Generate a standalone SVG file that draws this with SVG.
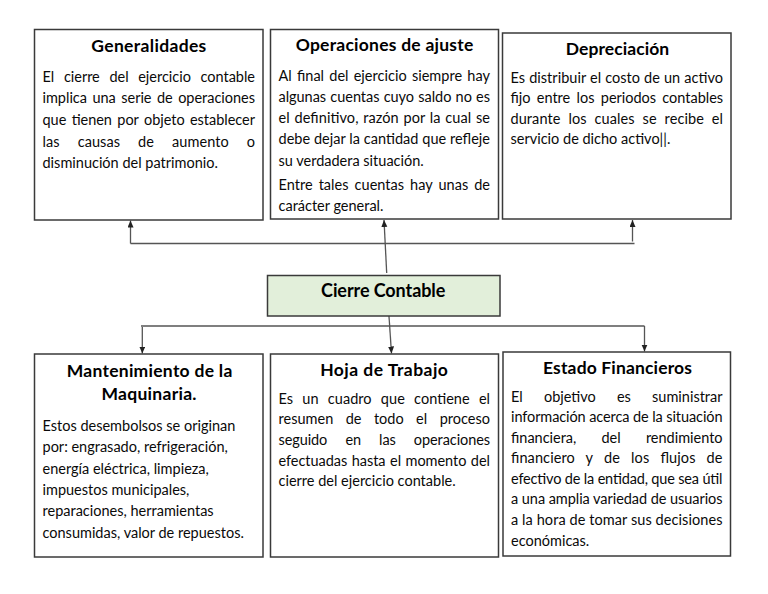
<svg xmlns="http://www.w3.org/2000/svg" width="768" height="594" viewBox="0 0 768 594">
<style>
.box{fill:#ffffff;stroke:#3a3a3a;stroke-width:1.5}
.root{fill:#e2efda;stroke:#3a3a3a;stroke-width:1.5}
.t{font-family:Lato,"Open Sans","Liberation Sans",sans-serif;font-weight:bold;font-size:17.5px;fill:#000;text-anchor:middle}
.b{font-family:Lato,"Open Sans","Liberation Sans",sans-serif;font-size:14.5px;fill:#0a0a0a}
.c{stroke:#555;stroke-width:1.3;fill:none}
</style>
<defs>
<marker id="ah" markerUnits="userSpaceOnUse" markerWidth="8" markerHeight="8" refX="7" refY="3" orient="auto">
<path d="M0,0 L7,3 L0,6 Z" fill="#222"/>
</marker>
</defs>
<rect width="768" height="594" fill="#ffffff"/>

<g id="connectors">
<line class="c" x1="130.5" y1="243.5" x2="634.5" y2="243.5"/>
<line class="c" x1="130.5" y1="243.5" x2="130.5" y2="220.5" marker-end="url(#ah)"/>
<line class="c" x1="632.5" y1="241.5" x2="632.5" y2="220" marker-end="url(#ah)"/>
<line class="c" x1="386.7" y1="273" x2="384" y2="220" marker-end="url(#ah)"/>
<line class="c" x1="141" y1="326" x2="644.5" y2="326"/>
<line class="c" x1="142.3" y1="327" x2="142.3" y2="353.5" marker-end="url(#ah)"/>
<line class="c" x1="644.5" y1="326" x2="644.5" y2="351.5" marker-end="url(#ah)"/>
<line class="c" x1="387.7" y1="297" x2="391.5" y2="353.5" marker-end="url(#ah)"/>
</g>

<g id="generalidades">
<rect class="box" x="34.5" y="29.5" width="228.5" height="190.5"/>
<text class="t" x="148.8" y="52" textLength="115" lengthAdjust="spacing">Generalidades</text>
<text class="b" x="42.5" y="81.5" textLength="212.5" lengthAdjust="spacing" style="word-spacing:6px">El cierre del ejercicio contable</text>
<text class="b" x="42.5" y="103.2" textLength="212.5" lengthAdjust="spacing" style="word-spacing:1.8px">implica una serie de operaciones</text>
<text class="b" x="42.5" y="124.9" textLength="212.5" lengthAdjust="spacing" style="word-spacing:1.7px">que tienen por objeto establecer</text>
<text class="b" x="42.5" y="146.6" textLength="212.5" lengthAdjust="spacing" style="word-spacing:14.2px">las causas de aumento o</text>
<text class="b" x="42.5" y="168.3">disminución del patrimonio.</text>
</g>

<g id="operaciones">
<rect class="box" x="270.5" y="29.5" width="228" height="189.5"/>
<text class="t" x="384.5" y="51" textLength="177.6" lengthAdjust="spacing">Operaciones de ajuste</text>
<text class="b" x="278.5" y="80.5" textLength="211.5" lengthAdjust="spacing" style="word-spacing:1.4px">Al final del ejercicio siempre hay</text>
<text class="b" x="278.5" y="101.8" textLength="211.5" lengthAdjust="spacing" style="word-spacing:0.6px">algunas cuentas cuyo saldo no es</text>
<text class="b" x="278.5" y="123.1" textLength="211.5" lengthAdjust="spacing" style="word-spacing:0.9px">el definitivo, razón por la cual se</text>
<text class="b" x="278.5" y="144.4" textLength="211.5" lengthAdjust="spacing" style="word-spacing:0px">debe dejar la cantidad que refleje</text>
<text class="b" x="278.5" y="165.7">su verdadera situación.</text>
<text class="b" x="278.5" y="189.5" textLength="211.5" lengthAdjust="spacing" style="word-spacing:2.2px">Entre tales cuentas hay unas de</text>
<text class="b" x="278.5" y="210.5">carácter general.</text>
</g>

<g id="depreciacion">
<rect class="box" x="502.5" y="33" width="228.5" height="186"/>
<text class="t" x="617.5" y="55" textLength="103.4" lengthAdjust="spacing">Depreciación</text>
<text class="b" x="510.5" y="82.5" textLength="212.5" lengthAdjust="spacing" style="word-spacing:0.3px">Es distribuir el costo de un activo</text>
<text class="b" x="510.5" y="103" textLength="212.5" lengthAdjust="spacing" style="word-spacing:2.7px">fijo entre los periodos contables</text>
<text class="b" x="510.5" y="123.5" textLength="212.5" lengthAdjust="spacing" style="word-spacing:4.2px">durante los cuales se recibe el</text>
<text class="b" x="510.5" y="144">servicio de dicho activo||.</text>
</g>

<g id="cierre-contable">
<rect class="root" x="267.5" y="275.5" width="232.5" height="40.5"/>
<text class="t" x="383.2" y="297" style="font-size:18px" textLength="124.3" lengthAdjust="spacing">Cierre Contable</text>
</g>

<g id="mantenimiento">
<rect class="box" x="34.5" y="354" width="228.5" height="203"/>
<text class="t" x="149.5" y="377" textLength="165.6" lengthAdjust="spacing">Mantenimiento de la</text>
<text class="t" x="149" y="400" textLength="95" lengthAdjust="spacing">Maquinaria.</text>
<text class="b" x="42.5" y="431">Estos desembolsos se originan</text>
<text class="b" x="42.5" y="452.3">por: engrasado, refrigeración,</text>
<text class="b" x="42.5" y="473.6">energía eléctrica, limpieza,</text>
<text class="b" x="42.5" y="494.9">impuestos municipales,</text>
<text class="b" x="42.5" y="516.2">reparaciones, herramientas</text>
<text class="b" x="42.5" y="537.5">consumidas, valor de repuestos.</text>
</g>

<g id="hoja-de-trabajo">
<rect class="box" x="270.5" y="354" width="228" height="203"/>
<text class="t" x="384" y="376" textLength="127.7" lengthAdjust="spacing">Hoja de Trabajo</text>
<text class="b" x="278.5" y="403.5" textLength="211.5" lengthAdjust="spacing" style="word-spacing:5.5px">Es un cuadro que contiene el</text>
<text class="b" x="278.5" y="424.2" textLength="211.5" lengthAdjust="spacing" style="word-spacing:8.7px">resumen de todo el proceso</text>
<text class="b" x="278.5" y="444.9" textLength="211.5" lengthAdjust="spacing" style="word-spacing:14.5px">seguido en las operaciones</text>
<text class="b" x="278.5" y="465.6" textLength="211.5" lengthAdjust="spacing" style="word-spacing:0.8px">efectuadas hasta el momento del</text>
<text class="b" x="278.5" y="486.3">cierre del ejercicio contable.</text>
</g>

<g id="estado-financieros">
<rect class="box" x="503" y="352" width="227.5" height="204"/>
<text class="t" x="617.5" y="374" textLength="149" lengthAdjust="spacing">Estado Financieros</text>
<text class="b" x="511" y="401.5" textLength="211.5" lengthAdjust="spacing" style="word-spacing:17.5px">El objetivo es suministrar</text>
<text class="b" x="511" y="422" textLength="211.5" lengthAdjust="spacing" style="word-spacing:0px">información acerca de la situación</text>
<text class="b" x="511" y="442.5" textLength="211.5" lengthAdjust="spacing" style="word-spacing:21.5px">financiera, del rendimiento</text>
<text class="b" x="511" y="463" textLength="211.5" lengthAdjust="spacing" style="word-spacing:7.3px">financiero y de los flujos de</text>
<text class="b" x="511" y="483.5" textLength="211.5" lengthAdjust="spacing" style="word-spacing:0px">efectivo de la entidad, que sea útil</text>
<text class="b" x="511" y="504" textLength="211.5" lengthAdjust="spacing" style="word-spacing:0px">a una amplia variedad de usuarios</text>
<text class="b" x="511" y="524.8" textLength="211.5" lengthAdjust="spacing" style="word-spacing:0px">a la hora de tomar sus decisiones</text>
<text class="b" x="511" y="545.5">económicas.</text>
</g>
</svg>
